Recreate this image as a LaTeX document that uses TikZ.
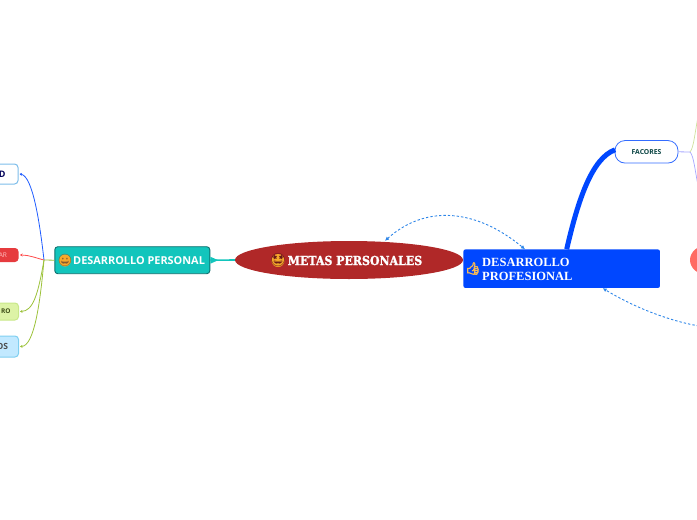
\documentclass[tikz,border=0pt]{standalone}
\usepackage{fontspec}
\setmainfont{Open Sans}
\newfontfamily\serifb{Liberation Serif}
\newfontfamily\slab[BoldFeatures={FakeBold=1.6}]{DejaVu Serif}
\newfontfamily\emo{Noto Emoji}
\newfontfamily\emofat[FakeBold=5]{Noto Emoji}
\usetikzlibrary{arrows.meta,shapes.geometric}
\definecolor{teal1}{HTML}{12C5BC}
\definecolor{teal2}{HTML}{0E6F6E}
\definecolor{brick}{HTML}{B02828}
\definecolor{royal}{HTML}{0047FF}
\definecolor{dash1}{HTML}{2E86E8}
\definecolor{lime1}{HTML}{9CC23A}
\definecolor{face}{HTML}{F6A92B}
\definecolor{coral}{HTML}{FF6B63}
\definecolor{leafred}{HTML}{E63B3E}
\definecolor{leafgreen}{HTML}{DDF3A6}
\definecolor{leafgreenb}{HTML}{C8E88A}
\definecolor{leafblue}{HTML}{C2E9FF}
\definecolor{leafblueb}{HTML}{7FCFF0}
\definecolor{leafsky}{HTML}{7DBDEA}
\definecolor{twigblue}{HTML}{1E5BFF}
\tikzset{
  x=1pt,y=-1pt,
  dashes/.style={dash1,line width=.9pt,dash pattern=on 2.4pt off 2pt},
  link/.style={dashes,{Latex[length=4pt,width=4pt,sep=0pt]}-{Latex[length=4pt,width=4pt]}},
  linkb/.style={dashes,-{Latex[length=4pt,width=4pt]}},
  twig/.style={line width=.8pt,-{Stealth[length=2.5pt,width=3pt]}},
  leaf/.style={rounded corners=3.5pt,line width=1pt,inner sep=0pt,anchor=east,minimum width=60pt,text width=60pt,align=right},
  facemark/.style={circle,fill=face,minimum size=#1,inner sep=0pt},
  glyph/.style={inner sep=0pt,font=\emo\fontsize{#1}{#1}\selectfont},
}
\begin{document}
\begin{tikzpicture}
\useasboundingbox (0,0) rectangle (697,520);
\clip (0,0) rectangle (697,520);
% main nodes
\node[ellipse,fill=brick,minimum width=228pt,minimum height=38pt,inner sep=0pt] (main) at (349,260) {};
\node[fill=teal1,draw=teal2,line width=.9pt,rounded corners=3pt,minimum width=155pt,minimum height=27pt,inner sep=0pt] (dp) at (132.3,260.2) {};
\node[fill=royal,rounded corners=2pt,minimum width=196.5pt,minimum height=38.5pt,inner sep=0pt] (dpro) at (561.7,268.7) {};
\node[fill=white,draw=royal!80!white,line width=.8pt,rounded corners=10pt,minimum width=63pt,minimum height=22.5pt,inner sep=0pt,text=teal2!60!black,font=\bfseries\fontsize{6.8}{7}\selectfont] (fac) at (646.5,151.8) {FACORES};
\node[ellipse,fill=coral,minimum width=36pt,minimum height=30pt,inner sep=0pt] (redb) at (708,260) {};
% node texts
\node[inner sep=0pt,text=white,font=\slab\bfseries\fontsize{12.5}{13}\selectfont,xscale=.88] (maint) at (355,260.5) {METAS PERSONALES};
\node[facemark=13pt] (mainf) at (278,260.5) {};
\node[glyph=13] (maing) at (278,260.5) {\textcolor{brick!60!black}{^^^^^^01f929}};
\node[inner sep=0pt,text=white,anchor=west,font=\bfseries\fontsize{10.9}{12}\selectfont] (dpt) at (73,260.5) {DESARROLLO PERSONAL};
\node[facemark=12pt] (dpf) at (65,260.5) {};
\node[glyph=12] (dpg) at (65,260.5) {\textcolor{brown!70!black}{^^^^^^01f600}};
\node[inner sep=0pt,text=white,anchor=west,align=left,font=\serifb\bfseries\fontsize{12.5}{14}\selectfont] (dprot) at (482,269) {DESARROLLO\\PROFESIONAL};
\node[inner sep=0pt,font=\emofat\fontsize{12}{12}\selectfont] (thumb) at (473,268.5) {\textcolor{face!80!white}{^^^^^^01f44d}};
% leaves
\node[leaf,draw=leafsky,fill=white,minimum height=20pt,text=blue!35!black,font=\bfseries\fontsize{9}{10}\selectfont] (l1) at (18.5,174) {D\hspace*{12.5pt}};
\node[leaf,fill=leafred,minimum height=14pt,text=white!75!red,font=\fontsize{6.5}{7}\selectfont] (l2) at (19,255) {AR\hspace*{11.5pt}};
\node[leaf,draw=leafgreenb,fill=leafgreen,minimum height=17pt,text=lime1!40!black,font=\bfseries\fontsize{6.5}{7}\selectfont] (l3) at (19,311.5) {RO\hspace*{8pt}};
\node[leaf,draw=leafblueb,fill=leafblue,minimum height=21pt,text=black!70,font=\bfseries\fontsize{8.5}{9}\selectfont] (l4) at (19,346.5) {OS\hspace*{10.5pt}};
% junctions
\coordinate (jl) at (44,260);
\coordinate (jr) at (690,152);
\coordinate (upr) at (699,112);
\coordinate (dnr) at (699,190);
\coordinate (far) at (699,326);
% connectors
\draw[teal1,line width=1.6pt] (main.west) -- (dp.east);
\fill[teal1] ([yshift=3.5pt]dp.east) -- ([xshift=8pt]dp.east) -- ([yshift=-3.5pt]dp.east) -- cycle;
\draw[lime1,line width=.8pt] (dp.west) -- (jl);
\draw[twig,twigblue] (jl) .. controls (40,225) and (33,176) .. ([xshift=1pt]l1.east);
\draw[twig,red!70!white] (jl) .. controls (36,258) and (29,255) .. ([xshift=1pt]l2.east);
\draw[twig,lime1] (jl) .. controls (38,295) and (33,311) .. ([xshift=1pt]l3.east);
\draw[twig,lime1] (jl) .. controls (40,305) and (34,346) .. ([xshift=1pt]l4.east);
\draw[royal,line width=5pt] ([xshift=5pt]dpro.north) .. controls (578,200) and (592,158) .. ([xshift=.5pt,yshift=2pt]fac.west);
\draw[blue!35!white,line width=.8pt] (fac.east) -- (jr);
\draw[lime1!50!white,line width=.7pt] (jr) .. controls (694,148) and (695,130) .. (upr);
\draw[blue!35!white,line width=.7pt] (jr) .. controls (694,156) and (695,172) .. (dnr);
\draw[link] ([xshift=36pt]main.north) .. controls (425,205) and (475,208) .. ([xshift=-36.7pt]dpro.north);
\draw[linkb] (far) .. controls (665,320) and (630,305) .. ([xshift=41pt]dpro.south);
\end{tikzpicture}
\end{document}
